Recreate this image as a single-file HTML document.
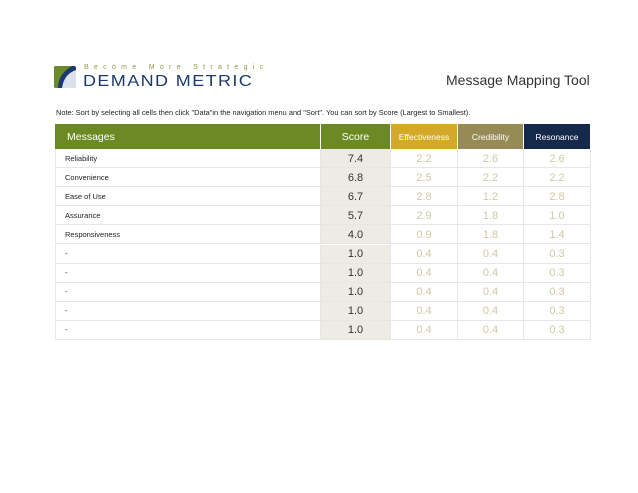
<!DOCTYPE html>
<html><head><meta charset="utf-8">
<style>
body{margin:0;width:638px;height:493px;background:#fff;font-family:"Liberation Sans",sans-serif;position:relative;overflow:hidden}
.abs{position:absolute}
.cell{position:absolute;box-sizing:border-box;border-right:1px solid #e6e6e6;border-bottom:1px solid #e6e6e6;display:flex;align-items:center}
.hd{position:absolute;box-sizing:border-box;display:flex;align-items:center;justify-content:center;color:#fff;font-size:9px;border-right:1px solid #fff}
</style></head><body>
<div class="abs" style="left:54px;top:66px;width:22px;height:22px;background:#1d3a6e;border-radius:2px;overflow:hidden">
<svg width="22" height="22"><path d="M0 0 H18 Q4 8 4 22 H0Z" fill="#6b8a2a"/><path d="M8 22 Q10 8 22 4 V22Z" fill="#fff" opacity="0.85"/></svg></div>
<div class="abs" style="left:84px;top:64px;font-size:7px;letter-spacing:5.3px;color:#8aa04a">Become More Strategic</div>
<div class="abs" style="left:83px;top:71px;font-size:18px;letter-spacing:1.4px;color:#1d3a6e;transform:scaleY(0.85)">DEMAND METRIC</div>
<div class="abs" style="left:446px;top:72px;font-size:14px;color:#333">Message Mapping Tool</div>
<div class="abs" style="left:56px;top:108px;font-size:7.4px;color:#222">Note: Sort by selecting all cells then click "Data"in the navigation menu and "Sort". You can sort by Score (Largest to Smallest).</div>
<div id="tbl"></div>
<script>
const messages=["Reliability","Convenience","Ease of Use","Assurance","Responsiveness","-","-","-","-","-"];
const scores=[7.4,6.8,6.7,5.7,4.0,1.0,1.0,1.0,1.0,1.0];
const effectiveness=[2.2,2.5,2.8,2.9,0.9,0.4,0.4,0.4,0.4,0.4];
const credibility=[2.6,2.2,1.2,1.8,1.8,0.4,0.4,0.4,0.4,0.4];
const resonance=[2.6,2.2,2.8,1.0,1.4,0.3,0.3,0.3,0.3,0.3];
const headers=["Messages","Score","Effectiveness","Credibility","Resonance"];
const cols=[55,321,391,458,524,591];
const hbg=["#6b8a23","#6b8a23","#d4a92a","#968a55","#15294a"];
const tbl=document.getElementById('tbl');
const top0=124,hh=25,rh=19.1;
headers.forEach((h,i)=>{
  const d=document.createElement('div');d.className='hd';
  
  
  d.style.cssText=`left:${cols[i]}px;top:${top0}px;width:${cols[i+1]-cols[i]}px;height:${hh}px;background:${hbg[i]};font-size:${i<2?10.5:8.5}px;${i==0?'justify-content:flex-start;padding-left:12px;':''}`;
  d.textContent=h;tbl.appendChild(d);
});
const series=[messages,scores,effectiveness,credibility,resonance];
for(let r=0;r<messages.length;r++){
  for(let c=0;c<5;c++){
    const d=document.createElement('div');d.className='cell';
    
    
    const y=top0+hh+r*rh;
    let st=`left:${cols[c]}px;top:${y}px;width:${cols[c+1]-cols[c]}px;height:${rh}px;`;
    if(c==0)st+='padding-left:9px;font-size:7.5px;color:#222;border-left:1px solid #e6e6e6;';
    else{st+='justify-content:center;font-size:11px;padding-top:1px;';st+=c==1?'background:#edebe4;color:#333;':'color:#cfc9a6;';}
    d.style.cssText=st;
    d.textContent=c==0?series[0][r]:series[c][r].toFixed(1);
    tbl.appendChild(d);
  }
}
</script>
</body></html>
